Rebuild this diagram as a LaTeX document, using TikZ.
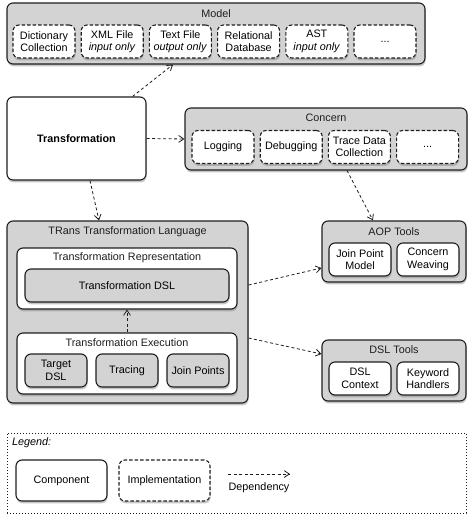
\documentclass[tikz,border=0pt]{standalone}
\usepackage{fontspec}
\setmainfont{Liberation Sans}
\usepackage{tikz}
\usetikzlibrary{arrows.meta, positioning, calc, shadows}
\definecolor{cGrp}{RGB}{211,211,211}
\definecolor{cLine}{RGB}{30,30,30}
\tikzset{
	comp/.style   ={rectangle, rounded corners=6pt, draw=cLine, line width=1.1pt, fill=white, align=center, inner sep=1pt,
	                drop shadow={shadow xshift=0.6pt, shadow yshift=-2.4pt, opacity=0.45}},
	impl/.style   ={comp, dash pattern=on 3.5pt off 2pt, minimum width=62pt, minimum height=33pt},
	grp/.style    ={comp, fill=cGrp},
	sub/.style    ={comp, fill=cGrp, minimum width=62pt, minimum height=33pt},
	leaf/.style   ={comp, minimum width=62pt, minimum height=33pt},
	grptitle/.style={inner sep=0pt, text=cLine},
	dep/.style    ={-{Straight Barb[length=1.8mm, width=2.4mm]}, dash pattern=on 3pt off 2.5pt, line width=0.8pt, cLine},
}

\begin{document}
\begin{tikzpicture}[x=1pt, y=-1pt, font=\fontsize{10.8}{12.5}\selectfont]
	\useasboundingbox (0,0) rectangle (474,516);
	% model
	\node[grp, minimum width=418pt, minimum height=61pt] (model) at (216,33.5) {};
	\node[grptitle] (modelT) at (216,14) {Model};
	\foreach \i/\lab in {0/{Dictionary\\Collection}, 1/{XML File\\\textit{input only}}, 2/{Text File\\\textit{output only}},
	                     3/{Relational\\Database}, 4/{AST\\\textit{input only}}, 5/{...}} {
		\node[impl] (m\i) at ({44+68.2*\i},41.5) {\lab};
	}
	% transformation
	\node[comp, minimum width=139pt, minimum height=83pt] (trans) at (76.5,138.5) {\textbf{Transformation}};
	% concern
	\node[grp, minimum width=282pt, minimum height=62pt] (concern) at (326,139) {};
	\node[grptitle] (concernT) at (326,118) {Concern};
	\foreach \i/\lab in {0/{Logging}, 1/{Debugging}, 2/{Trace Data\\Collection}, 3/{...}} {
		\node[impl] (c\i) at ({223+68.2*\i},147) {\lab};
	}
	% trans language
	\node[grp, minimum width=241pt, minimum height=182pt] (lang) at (127.5,312) {};
	\node[grptitle] (langT) at (127.5,232) {TRans Transformation Language};
	\node[comp, minimum width=220pt, minimum height=61pt] (rep) at (127,278.5) {};
	\node[grptitle] (repT) at (127,258) {Transformation Representation};
	\node[sub, minimum width=204pt] (dsl) at (127,285.5) {Transformation DSL};
	\node[comp, minimum width=220pt, minimum height=61pt] (exec) at (127,363.5) {};
	\node[grptitle] (execT) at (127,343) {Transformation Execution};
	\foreach \i/\lab in {0/{Target\\DSL}, 1/{Tracing}, 2/{Join Points}} {
		\node[sub] (e\i) at ({56+71*\i},370.5) {\lab};
	}
	% tools
	\node[grp, minimum width=144pt, minimum height=61pt] (aop) at (394,251.5) {};
	\node[grptitle] (aopT) at (394,232) {AOP Tools};
	\node[leaf] (a0) at (360,259.5) {Join Point\\Model};
	\node[leaf] (a1) at (428,259.5) {Concern\\Weaving};
	\node[grp, minimum width=144pt, minimum height=61pt] (dtools) at (394,370.5) {};
	\node[grptitle] (dtoolsT) at (394,350) {DSL Tools};
	\node[leaf] (d0) at (360,378.5) {DSL\\Context};
	\node[leaf] (d1) at (428,378.5) {Keyword\\Handlers};
	% dependencies
	\draw[dep] ([xshift=-14pt]trans.north east) -- ([xshift=-43pt]model.south);
	\draw[dep] (trans.east) -- (concern.west);
	\draw[dep] ([xshift=13.5pt]trans.south) -- ([xshift=-28.5pt]lang.north);
	\draw[dep] ([xshift=21pt]concern.south) -- ([xshift=-21pt]aop.north);
	\draw[dep] (exec.north) -- (rep.south);
	\draw[dep] ([yshift=27pt]lang.east) -- ([yshift=-16.5pt]aop.west);
	\draw[dep] ([yshift=-26pt]lang.east) -- ([yshift=16.5pt]dtools.west);
	% legend
	\node[draw=cLine, dotted, line width=1pt, minimum width=459pt, minimum height=80pt] (legend) at (236.5,473) {};
	\node[anchor=west, inner sep=0pt] (legendT) at (12,443) {\textit{Legend:}};
	\node[comp, minimum width=91pt, minimum height=41pt] (lcomp) at (61.5,480.5) {Component};
	\node[comp, dash pattern=on 3.5pt off 2pt, minimum width=91pt, minimum height=41pt] (limpl) at (164.5,480.5) {Implementation};
	\coordinate (ldepA) at (228,474);
	\coordinate (ldepB) at (290,474);
	\draw[dep] (ldepA) -- (ldepB);
	\node[inner sep=0pt] (ldepT) at (259,488) {Dependency};
\end{tikzpicture}
\end{document}
